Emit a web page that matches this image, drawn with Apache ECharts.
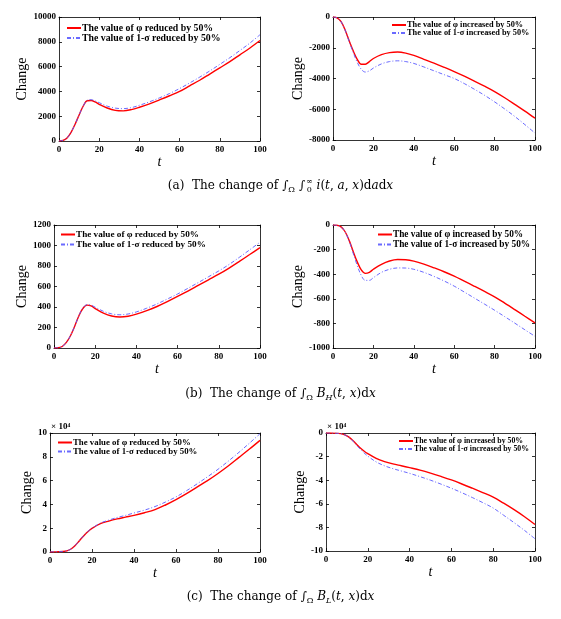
<!DOCTYPE html>
<html>
<head>
<meta charset="utf-8">
<script src="https://cdn.jsdelivr.net/npm/echarts@6/dist/echarts.min.js"></script>
<style>
    body { margin: 0; background: #fff; }
    #main { position: absolute; left: 0; top: 0; width: 561px; height: 619px; }
    .cap {
        position: absolute; left: 0; width: 561px; text-align: center;
        font-family: "DejaVu Serif", serif; font-size: 12px; color: #000;
        line-height: 16px;
    }
    .cap sub, .cap sup { font-size: 8px; }
    .stk { display: inline-block; vertical-align: middle; line-height: 8px; font-size: 8px; margin-left: 1px; }
</style>
</head>
<body>
<div id="main"></div>
<div class="cap" style="top:177px">(a)&nbsp; The change of &int;<sub>&Omega;</sub> &int;<span class="stk">&infin;<br>0</span> <i>i</i>(<i>t</i>, <i>a</i>, <i>x</i>)d<i>a</i>d<i>x</i></div>
<div class="cap" style="top:385px">(b)&nbsp; The change of &int;<sub>&Omega;</sub> <i>B</i><sub><i>H</i></sub>(<i>t</i>, <i>x</i>)d<i>x</i></div>
<div class="cap" style="top:588px">(c)&nbsp; The change of &int;<sub>&Omega;</sub> <i>B</i><sub><i>L</i></sub>(<i>t</i>, <i>x</i>)d<i>x</i></div>
<script>
// time points shared by every curve
var T = [0, 2, 4, 6, 8, 10, 12, 14, 16, 18, 20, 24, 28, 32, 36, 40, 45, 50, 55, 60, 65, 70, 75, 80, 85, 90, 95, 100];

// (a) integral of i(t,a,x)
var aLeftPhi = [0, 50, 250, 700, 1350, 2100, 2800, 3250, 3270, 3150, 2960, 2660, 2470, 2430, 2530, 2720, 3000, 3320, 3650, 4000, 4450, 4900, 5400, 5900, 6400, 6950, 7500, 8100];
var aLeftSigma = [0, 50, 250, 700, 1350, 2100, 2810, 3280, 3330, 3230, 3090, 2810, 2650, 2610, 2690, 2880, 3160, 3480, 3830, 4230, 4680, 5150, 5650, 6180, 6720, 7300, 7900, 8570];
var aRightPhi = [0, -50, -300, -850, -1550, -2200, -2750, -3070, -3070, -2900, -2700, -2450, -2320, -2280, -2350, -2500, -2750, -3000, -3270, -3550, -3850, -4170, -4500, -4850, -5250, -5680, -6120, -6580];
var aRightSigma = [0, -50, -300, -850, -1600, -2300, -2950, -3400, -3580, -3500, -3320, -3050, -2900, -2850, -2900, -3020, -3250, -3500, -3750, -4000, -4330, -4700, -5090, -5520, -5980, -6470, -7000, -7550];

// (b) integral of B_H(t,x)
var bLeftPhi = [0, 2, 15, 55, 120, 210, 310, 385, 418, 410, 385, 340, 312, 302, 310, 330, 365, 405, 452, 503, 555, 610, 665, 720, 780, 845, 912, 980];
var bLeftSigma = [0, 2, 15, 55, 120, 210, 312, 390, 422, 418, 398, 358, 333, 324, 332, 352, 388, 430, 478, 527, 582, 638, 695, 752, 815, 885, 958, 1032];
var bRightPhi = [0, -2, -15, -55, -125, -215, -300, -365, -393, -385, -360, -320, -293, -281, -283, -294, -318, -348, -380, -416, -457, -498, -540, -584, -635, -688, -742, -796];
var bRightSigma = [0, -2, -15, -55, -130, -230, -330, -410, -450, -450, -428, -385, -360, -349, -350, -360, -385, -418, -455, -497, -545, -594, -643, -693, -745, -798, -852, -905];

// (c) integral of B_L(t,x), in units of 10^4
var cLeftPhi = [0, 0.01, 0.02, 0.04, 0.1, 0.25, 0.55, 0.95, 1.35, 1.7, 1.98, 2.38, 2.6, 2.78, 2.93, 3.08, 3.3, 3.56, 3.95, 4.4, 4.9, 5.45, 6.0, 6.6, 7.25, 7.95, 8.65, 9.38];
var cLeftSigma = [0, 0.01, 0.02, 0.04, 0.1, 0.25, 0.55, 0.96, 1.37, 1.72, 2.0, 2.43, 2.68, 2.9, 3.08, 3.28, 3.52, 3.82, 4.2, 4.63, 5.15, 5.72, 6.32, 6.95, 7.65, 8.38, 9.15, 9.94];
var cRightPhi = [0, 0, -0.01, -0.03, -0.1, -0.25, -0.5, -0.85, -1.2, -1.5, -1.75, -2.15, -2.42, -2.62, -2.78, -2.94, -3.15, -3.4, -3.68, -3.98, -4.32, -4.68, -5.05, -5.43, -5.95, -6.5, -7.1, -7.76];
var cRightSigma = [0, 0, -0.01, -0.03, -0.1, -0.25, -0.52, -0.9, -1.3, -1.65, -1.96, -2.45, -2.78, -3.02, -3.22, -3.42, -3.7, -4.0, -4.33, -4.68, -5.06, -5.47, -5.9, -6.36, -6.97, -7.6, -8.26, -8.96];

var namesReduced = ['The value of \u03c6 reduced by 50%', 'The value of 1-\u03c3 reduced by 50%'];
var namesIncreased = ['The value of \u03c6 increased by 50%', 'The value of 1-\u03c3 increased by 50%'];

var yRanges = [
    [0, 10000, 2000], [-8000, 0, 2000],
    [0, 1200, 200], [-1000, 0, 200],
    [0, 10, 2], [-10, 0, 2]
];

// layout of the six panels
var panels = [
    { phi: aLeftPhi, sigma: aLeftSigma, names: namesReduced,
      grid: { left: 59, top: 17, width: 201, height: 124 }, yGap: 26, xGap: 11,
      legend: { left: 66, top: 23, fs: 9.8, h: 10, gap: 0 } },
    { phi: aRightPhi, sigma: aRightSigma, names: namesIncreased,
      grid: { left: 333, top: 17, width: 202, height: 123 }, yGap: 27, xGap: 11,
      legend: { left: 391, top: 21, fs: 8.3, h: 10, gap: 0 } },
    { phi: bLeftPhi, sigma: bLeftSigma, names: namesReduced,
      grid: { left: 54, top: 225, width: 206, height: 123 }, yGap: 21, xGap: 10,
      legend: { left: 60, top: 230, fs: 9.2, h: 10, gap: 1 } },
    { phi: bRightPhi, sigma: bRightSigma, names: namesIncreased,
      grid: { left: 333, top: 225, width: 202, height: 123 }, yGap: 27, xGap: 10,
      legend: { left: 377, top: 230, fs: 9.3, h: 10, gap: 1 } },
    { phi: cLeftPhi, sigma: cLeftSigma, names: namesReduced,
      grid: { left: 50, top: 433, width: 210, height: 119 }, yGap: 13, xGap: 10,
      legend: { left: 57, top: 438, fs: 8.8, h: 10, gap: 0 } },
    { phi: cRightPhi, sigma: cRightSigma, names: namesIncreased,
      grid: { left: 326, top: 433, width: 209, height: 118 }, yGap: 13, xGap: 10,
      legend: { left: 398, top: 437, fs: 7.8, h: 9, gap: 0 } }
];

function pairs(xs, ys) {
    var l = [];
    for (var i = 0; i < xs.length; i++) {
        l.push([xs[i], ys[i]]);
    }
    return l;
}

var serif = 'Liberation Serif';
var grids = [], xAxes = [], yAxes = [], series = [], legends = [], graphics = [];

for (var i = 0; i < panels.length; i++) {
    var p = panels[i];
    var r = yRanges[i];
    grids.push(p.grid);
    var tick = { show: true, inside: true, length: 3, lineStyle: { color: '#000', width: 0.8 } };
    var line = { show: true, onZero: false, lineStyle: { color: '#000', width: 0.8 } };
    var plain = function (v) { return String(v); };
    xAxes.push({
        gridIndex: i, type: 'value', min: 0, max: 100, interval: 20,
        name: 't', nameLocation: 'middle', nameGap: p.xGap,
        nameTextStyle: { fontFamily: serif, fontStyle: 'italic', fontSize: 14, color: '#000' },
        axisLine: line, axisTick: tick, splitLine: { show: false },
        axisLabel: { fontFamily: serif, fontWeight: 'bold', fontSize: 9, color: '#000', margin: 4, formatter: plain }
    });
    xAxes.push({
        gridIndex: i, type: 'value', min: 0, max: 100, interval: 20, position: 'top',
        axisLine: line, axisTick: tick, splitLine: { show: false }, axisLabel: { show: false }
    });
    yAxes.push({
        gridIndex: i, type: 'value', min: r[0], max: r[1], interval: r[2],
        name: 'Change', nameLocation: 'middle', nameGap: p.yGap, nameRotate: 90,
        nameTextStyle: { fontFamily: serif, fontSize: 14, color: '#000' },
        axisLine: line, axisTick: tick, splitLine: { show: false },
        axisLabel: { fontFamily: serif, fontWeight: 'bold', fontSize: 9, color: '#000', margin: 3, formatter: plain }
    });
    yAxes.push({
        gridIndex: i, type: 'value', min: r[0], max: r[1], interval: r[2], position: 'right',
        axisLine: line, axisTick: tick, splitLine: { show: false }, axisLabel: { show: false }
    });
    series.push({
        name: p.names[0], type: 'line', xAxisIndex: 2 * i, yAxisIndex: 2 * i,
        data: pairs(T, p.phi), smooth: 0.35, symbol: 'none',
        lineStyle: { color: '#ff0000', width: 1.4 }, itemStyle: { color: '#ff0000' }
    });
    series.push({
        name: p.names[1], type: 'line', xAxisIndex: 2 * i, yAxisIndex: 2 * i,
        data: pairs(T, p.sigma), smooth: 0.35, symbol: 'none',
        lineStyle: { color: '#5a5aff', width: 1, type: [4, 2, 1, 2], opacity: 0.9 },
        itemStyle: { color: '#5a5aff' }
    });
    legends.push({
        data: p.names, orient: 'vertical', left: p.legend.left, top: p.legend.top,
        itemWidth: 14, itemHeight: p.legend.h, itemGap: p.legend.gap, padding: 0,
        selectedMode: false,
        itemStyle: { opacity: 0 },
        textStyle: { fontFamily: serif, fontWeight: 'bold', fontSize: p.legend.fs, color: '#000',
                     padding: [0, 0, 0, -4] }
    });
    if (i >= 4) {
        graphics.push({
            type: 'text', left: p.grid.left + 1, top: p.grid.top - 11,
            style: { text: '\u00d7 10\u2074', fontFamily: serif, fontWeight: 'bold', fontSize: 9, fill: '#000' }
        });
    }
}

var myChart = echarts.init(document.getElementById('main'));
var option = {
    animation: false,
    grid: grids,
    xAxis: xAxes,
    yAxis: yAxes,
    legend: legends,
    series: series,
    graphic: graphics
};
myChart.setOption(option);
</script>
</body>
</html>
